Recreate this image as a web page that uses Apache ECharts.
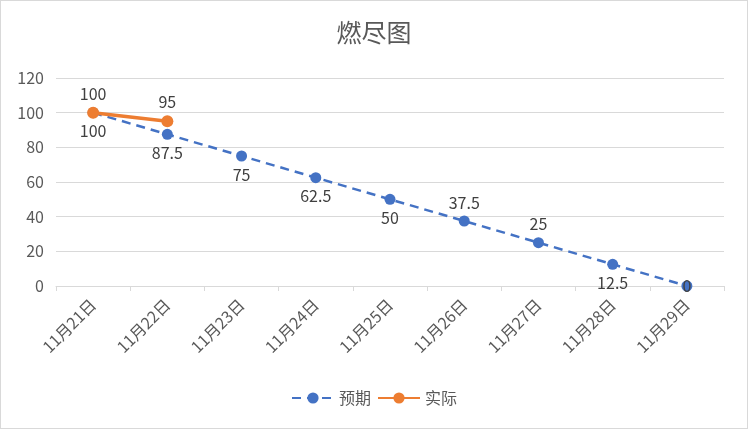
<!DOCTYPE html>
<html><head><meta charset="utf-8">
<script src="https://cdn.jsdelivr.net/npm/echarts@6/dist/echarts.min.js"></script>
<style>html,body{margin:0;padding:0;background:#fff}#c{width:748px;height:429px;box-sizing:border-box;border:1px solid #d9d9d9}</style>
</head><body><div id="c"></div>
<script>
var categories = ['11月21日','11月22日','11月23日','11月24日','11月25日','11月26日','11月27日','11月28日','11月29日'];
var expected = [100, 87.5, 75, 62.5, 50, 37.5, 25, 12.5, 0];
var actual = [100, 95];
var expectedLabelPos = ['bottom','bottom','bottom','bottom','bottom','top','top','bottom','inside'];
var yTicks = [0, 20, 40, 60, 80, 100, 120];

var font = '"Microsoft YaHei","Noto Sans CJK SC",sans-serif';
var chart = echarts.init(document.getElementById('c'));
chart.setOption({
  animation: false,
  title: {text: '燃尽图', left: 'center', top: 14, textStyle: {fontFamily: font, fontSize: 25, fontWeight: 'normal', color: '#595959'}},
  legend: {bottom: 17, left: 'center', itemWidth: 42, itemHeight: 14, itemGap: 6,
    textStyle: {fontFamily: font, fontSize: 16, color: '#595959'},
    data: [{name: '预期'}, {name: '实际'}]},
  grid: {left: 55, right: 23, top: 77, bottom: 142},
  xAxis: {type: 'category', data: categories, boundaryGap: true,
    axisLine: {lineStyle: {color: '#d9d9d9', width: 1}},
    axisTick: {show: true, length: 5, lineStyle: {color: '#d9d9d9'}},
    axisLabel: {rotate: 45, fontFamily: font, fontSize: 16, color: '#595959', margin: 16}},
  yAxis: {type: 'value', min: 0, max: 120, interval: 20,
    axisLine: {show: false}, axisTick: {show: false},
    splitLine: {lineStyle: {color: '#d9d9d9', width: 1}},
    axisLabel: {fontFamily: font, fontSize: 16, color: '#595959', margin: 12,
      formatter: function(v){return yTicks.indexOf(v) >= 0 ? String(v) : '';}}},
  series: [
    {name: '预期', type: 'line', data: expected.map(function(v, i){
        return {value: v, label: {position: expectedLabelPos[i], distance: expectedLabelPos[i]==='inside'?0:5}};
      }),
      symbol: 'circle', symbolSize: 11,
      lineStyle: {color: '#4472C4', width: 2.5, type: [9, 6]},
      itemStyle: {color: '#4472C4'},
      label: {show: true, fontFamily: font, fontSize: 16, color: '#404040'}},
    {name: '实际', type: 'line', data: actual,
      symbol: 'circle', symbolSize: 12,
      lineStyle: {color: '#ED7D31', width: 3.5},
      itemStyle: {color: '#ED7D31'},
      label: {show: true, position: 'top', distance: 5, fontFamily: font, fontSize: 16, color: '#404040'}}
  ]
});
</script></body></html>
